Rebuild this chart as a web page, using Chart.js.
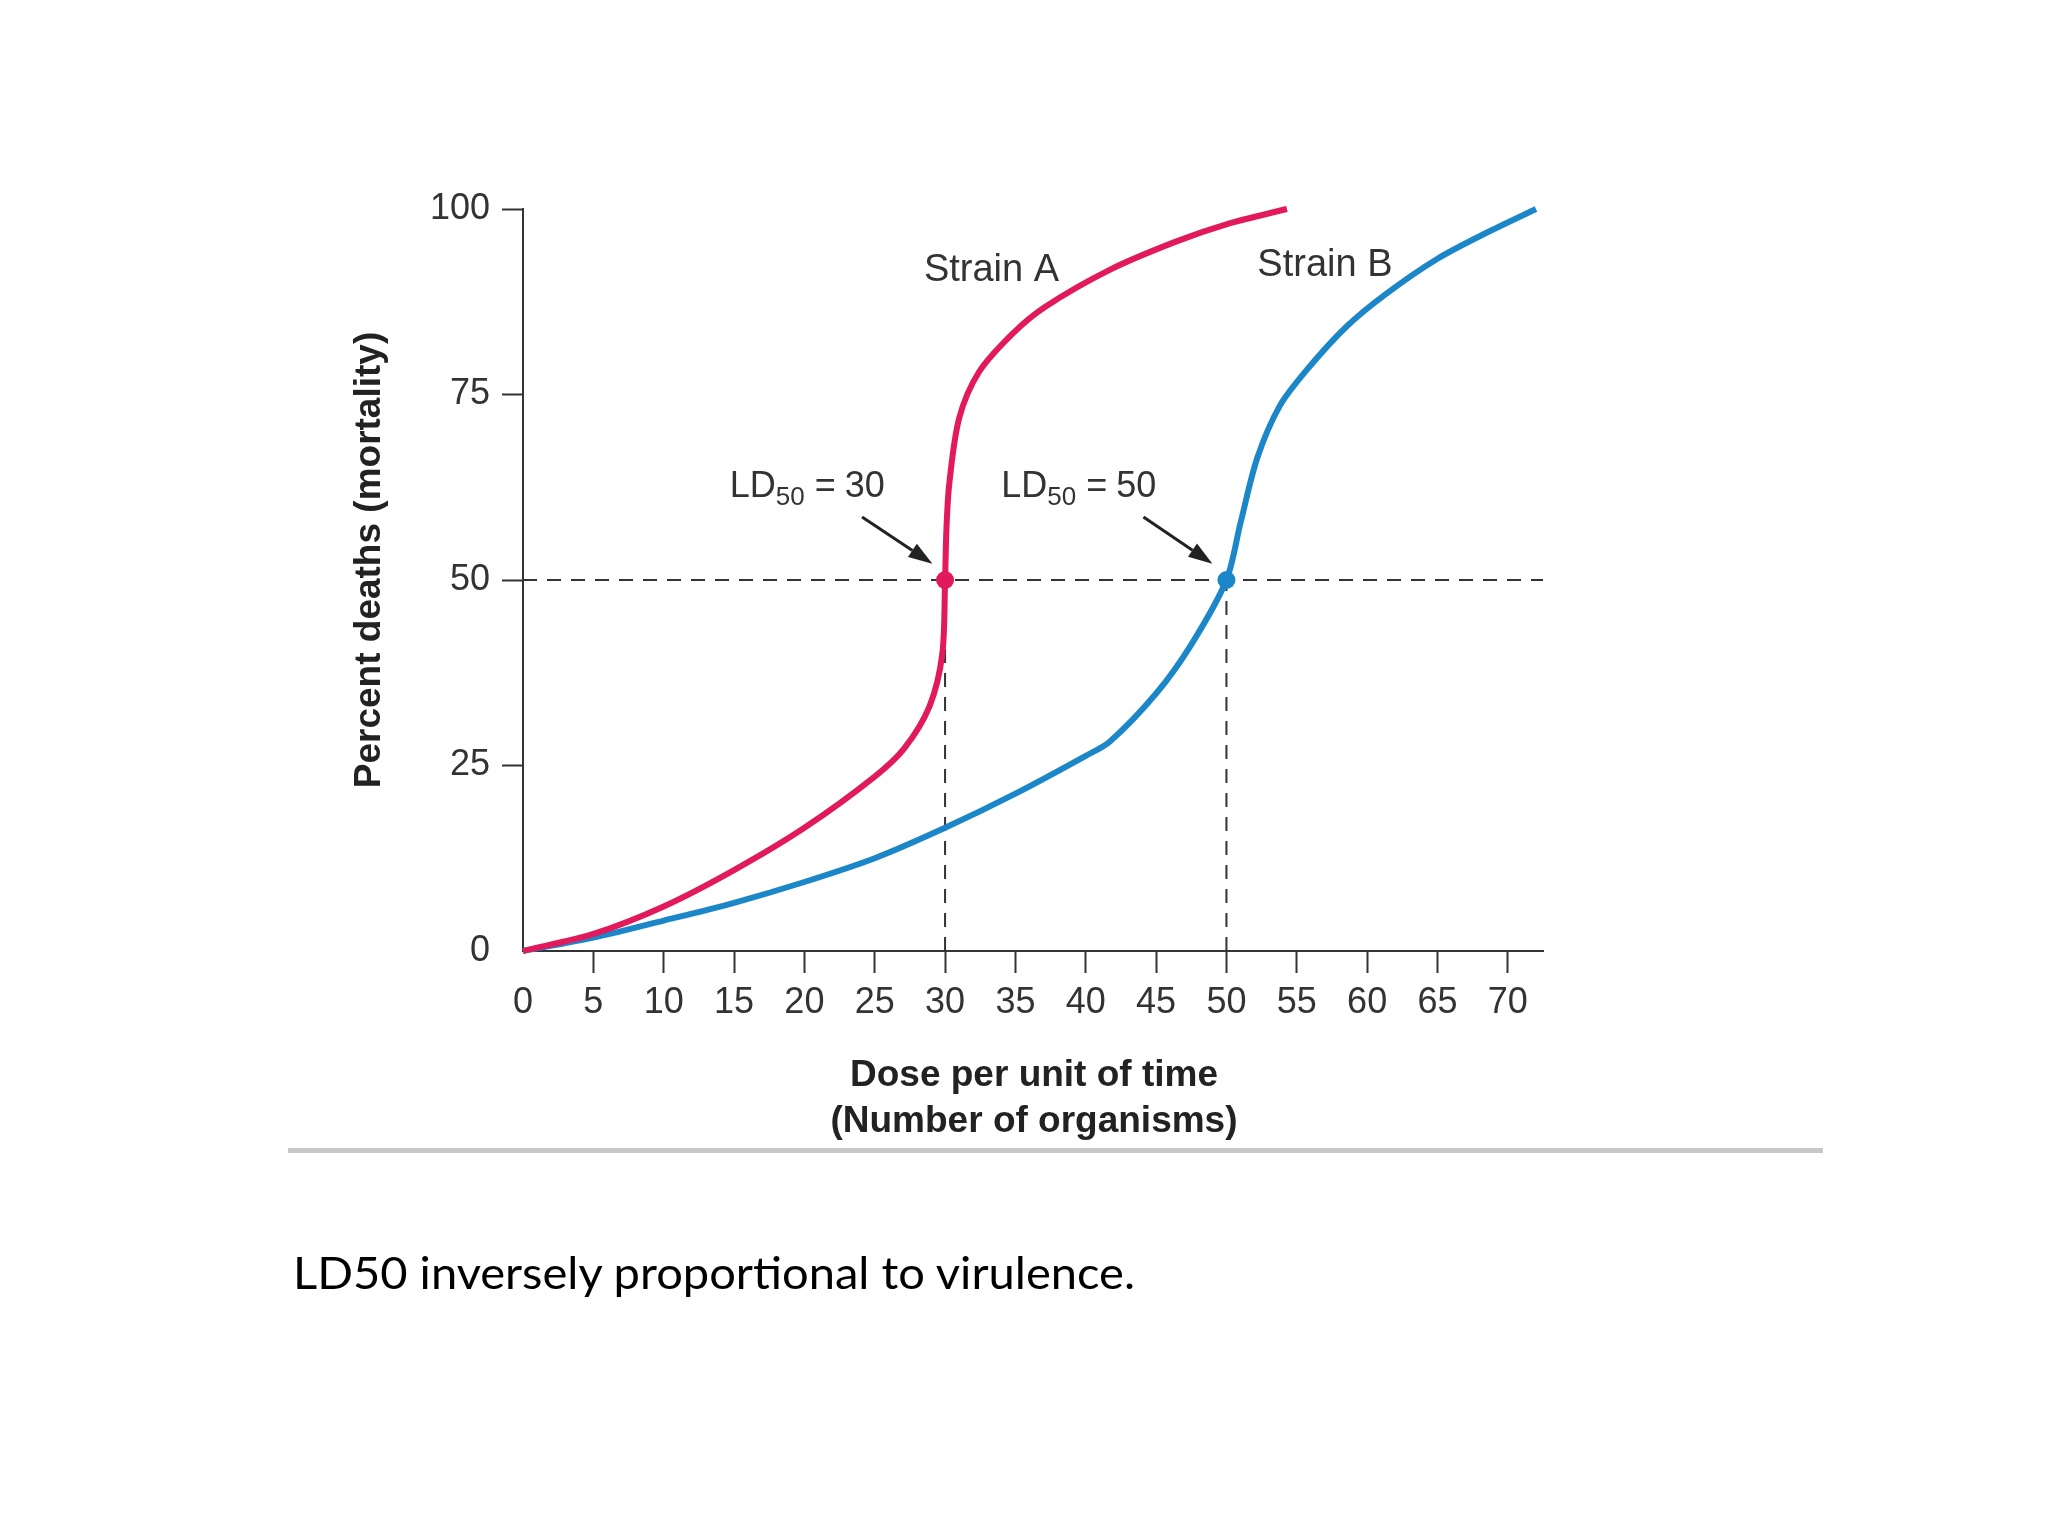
<!DOCTYPE html>
<html>
<head>
<meta charset="utf-8">
<script src="https://cdn.jsdelivr.net/npm/chart.js@4.4.1/dist/chart.umd.min.js"></script>
<style>
  html, body { margin: 0; padding: 0; background: #fff; }
  #wrap { position: relative; width: 2048px; height: 1536px; overflow: hidden; }
  #chart { position: absolute; left: 0; top: 0; }
  #rule { position: absolute; left: 288px; top: 1148px; width: 1535px; height: 5px; background: #c8c8c8; }
  #caption { position: absolute; left: 293px; top: 1250px; font-family: Lato, "Open Sans", sans-serif;
             font-size: 45px; line-height: 45px; color: #000; white-space: nowrap; transform-origin: 0 0; }
</style>
</head>
<body>
<div id="wrap">
  <canvas id="chart" width="2048" height="1536"></canvas>
  <div id="rule"></div>
  <div id="caption"><span id="captext">LD50 inversely proportional to virulence.</span></div>
</div>
<script>
// values
var xTickValues = [0, 5, 10, 15, 20, 25, 30, 35, 40, 45, 50, 55, 60, 65, 70];
var yTickValues = [0, 25, 50, 75, 100];

var doseA   = [0, 5, 10, 15, 20, 25, 27.1, 28.9, 29.8, 30, 30.1, 30.3, 31, 32.4, 34.8, 37.1, 41.7, 46.4, 50.1, 54.3];
var deathsA = [0, 2.3, 6, 10.9, 16.6, 23.5, 27.3, 33, 40, 50, 57, 63, 71.8, 78, 83.2, 86.8, 91.8, 95.6, 98, 100];

var doseB   = [0, 5, 10, 15, 20, 25, 30, 35, 40, 41.7, 45, 47.5, 50, 51, 52.2, 53.8, 55.7, 58.5, 61.3, 65, 68.7, 72];
var deathsB = [0, 1.8, 4.1, 6.5, 9.3, 12.5, 16.6, 21.2, 26.3, 28.2, 34.7, 41.3, 50, 57.7, 66.5, 73.5, 78.3, 84.1, 88.5, 93.3, 97, 100];

var ld50Dose = [30, 50];
var ld50Level = 50;
var strainNames = ['Strain A', 'Strain B'];
var xMax = 72.5;

var RED = '#e2195b';
var BLUE = '#1b87c9';
var INK = '#333';

function pts(xs, ys) {
    return xs.map(function (x, i) { return {x: x, y: ys[i]}; });
}

function dashed(data) {
    return {
        data: data, showLine: true, borderColor: INK, borderWidth: 2,
        borderDash: [14, 10], pointRadius: 0, order: 3
    };
}

var notes = {
    id: 'notes',
    afterDraw: function (chart) {
        var ctx = chart.ctx;
        var a = chart.chartArea;
        var x = chart.scales.x, y = chart.scales.y;
        ctx.save();
        ctx.fillStyle = INK;
        ctx.textBaseline = 'alphabetic';

        // curve names
        ctx.font = '38px "Liberation Sans", Arial, sans-serif';
        ctx.textAlign = 'center';
        ctx.fillText(strainNames[0], x.getPixelForValue(33.3), y.getPixelForValue(90.3));
        ctx.fillText(strainNames[1], x.getPixelForValue(57.0), y.getPixelForValue(91.0));

        // LD50 = n labels with subscript
        ctx.textAlign = 'left';
        function ld(value, xv) {
            var px = x.getPixelForValue(xv);
            var base = y.getPixelForValue(61.2);
            ctx.font = '36px "Liberation Sans", Arial, sans-serif';
            ctx.fillText('LD', px, base);
            px += ctx.measureText('LD').width;
            ctx.font = '26px "Liberation Sans", Arial, sans-serif';
            ctx.fillText('50', px, base + 8);
            px += ctx.measureText('50').width + 10;
            ctx.font = '36px "Liberation Sans", Arial, sans-serif';
            ctx.fillText('=', px, base);
            px += ctx.measureText('=').width + 9;
            ctx.fillText(String(value), px, base);
        }
        ld(ld50Dose[0], 14.7);
        ld(ld50Dose[1], 34.0);

        // arrows
        function arrow(x0, y0, x1, y1) {
            var p0x = x.getPixelForValue(x0), p0y = y.getPixelForValue(y0);
            var p1x = x.getPixelForValue(x1), p1y = y.getPixelForValue(y1);
            var ang = Math.atan2(p1y - p0y, p1x - p0x);
            var hl = 24, hw = 8;
            var bx = p1x - hl * Math.cos(ang), by = p1y - hl * Math.sin(ang);
            ctx.strokeStyle = '#222';
            ctx.fillStyle = '#222';
            ctx.lineWidth = 3;
            ctx.beginPath();
            ctx.moveTo(p0x, p0y);
            ctx.lineTo(bx, by);
            ctx.stroke();
            ctx.beginPath();
            ctx.moveTo(p1x, p1y);
            ctx.lineTo(bx + hw * Math.sin(ang), by - hw * Math.cos(ang));
            ctx.lineTo(bx - hw * Math.sin(ang), by + hw * Math.cos(ang));
            ctx.closePath();
            ctx.fill();
        }
        arrow(24.1, 58.5, 29.1, 52.2);
        arrow(44.1, 58.5, 49.0, 52.2);

        // axis titles
        ctx.fillStyle = '#222';
        ctx.font = 'bold 37px "Liberation Sans", Arial, sans-serif';
        ctx.textAlign = 'center';
        var cx = (a.left + a.right) / 2 + 1;
        ctx.fillText('Dose per unit of time', cx, a.bottom + 135);
        ctx.fillText('(Number of organisms)', cx, a.bottom + 181);

        ctx.translate(a.left - 153, a.top + 351);
        ctx.rotate(-Math.PI / 2);
        ctx.textBaseline = 'middle';
        ctx.fillText('Percent deaths (mortality)', 0, 0);
        ctx.restore();
    }
};

function tickColor(c) {
    return (c.tick && c.tick.value === 0) ? 'rgba(0,0,0,0)' : INK;
}

var ctx = document.getElementById('chart').getContext('2d');
new Chart(ctx, {
    type: 'scatter',
    data: {
        datasets: [
            {data: [{x: ld50Dose[0], y: ld50Level}], pointRadius: 9, pointBackgroundColor: RED,
             pointBorderWidth: 0, order: 0, clip: false},
            {data: [{x: ld50Dose[1], y: ld50Level}], pointRadius: 9, pointBackgroundColor: BLUE,
             pointBorderWidth: 0, order: 0, clip: false},
            {label: strainNames[0], data: pts(doseA, deathsA), showLine: true, borderColor: RED,
             borderWidth: 6, pointRadius: 0, tension: 0.3, order: 1, clip: false},
            {label: strainNames[1], data: pts(doseB, deathsB), showLine: true, borderColor: BLUE,
             borderWidth: 6, pointRadius: 0, tension: 0.3, order: 1, clip: false},
            dashed([{x: 0, y: ld50Level}, {x: xMax, y: ld50Level}]),
            dashed([{x: ld50Dose[0], y: 0}, {x: ld50Dose[0], y: ld50Level}]),
            dashed([{x: ld50Dose[1], y: 0}, {x: ld50Dose[1], y: ld50Level}])
        ]
    },
    options: {
        responsive: false,
        animation: false,
        events: [],
        layout: {autoPadding: false, padding: {left: 323, right: 505, top: 209, bottom: 485}},
        plugins: {legend: {display: false}, tooltip: {enabled: false}},
        scales: {
            x: {
                type: 'linear', min: 0, max: xMax,
                afterBuildTicks: function (s) { s.ticks = xTickValues.map(function (v) { return {value: v}; }); },
                afterFit: function (s) { s.height = 100; },
                ticks: {font: {family: '"Liberation Sans", Arial, sans-serif', size: 36}, color: INK,
                        padding: 8, maxRotation: 0, autoSkip: false},
                grid: {drawOnChartArea: false, drawTicks: true, tickLength: 22, tickWidth: 2, color: tickColor},
                border: {display: true, color: INK, width: 2}
            },
            y: {
                type: 'linear', min: 0, max: 100,
                afterBuildTicks: function (s) { s.ticks = yTickValues.map(function (v) { return {value: v}; }); },
                afterFit: function (s) { s.width = 200; },
                ticks: {font: {family: '"Liberation Sans", Arial, sans-serif', size: 36}, color: INK, padding: 12},
                grid: {drawOnChartArea: false, drawTicks: true, tickLength: 21, tickWidth: 2, color: tickColor},
                border: {display: true, color: INK, width: 2}
            }
        }
    },
    plugins: [notes]
});

// squeeze the caption to the width it has in the slide
var cap = document.getElementById('captext');
var w = cap.getBoundingClientRect().width;
document.getElementById('caption').style.transform = 'scaleX(' + (842 / w) + ')';
</script>
</body>
</html>
